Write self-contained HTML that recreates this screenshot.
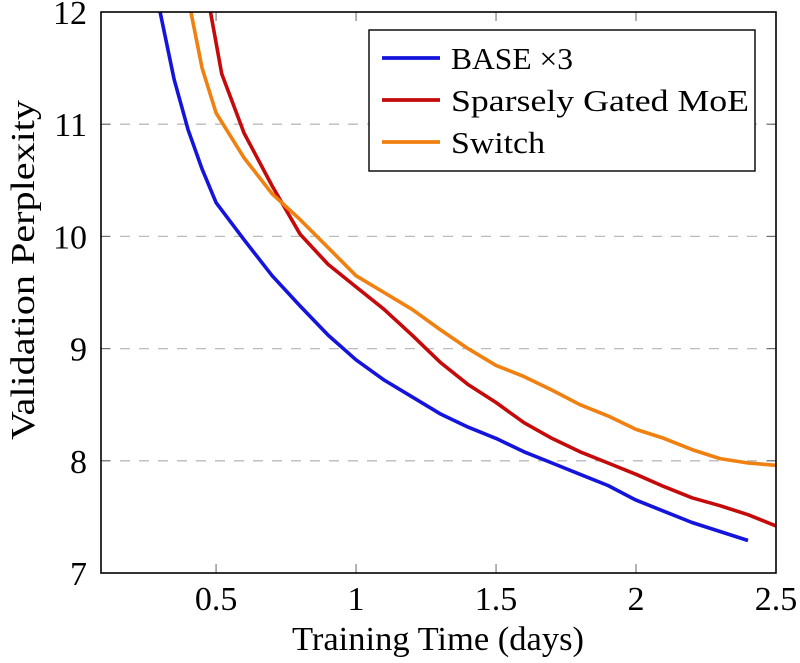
<!DOCTYPE html>
<html><head><meta charset="utf-8"><style>
body{margin:0;background:#fff;}
svg{display:block;font-family:"Liberation Serif",serif;}
</style></head><body>
<svg id="chart" width="800" height="663"></svg>
<script>
const xTicks=[0.5,1,1.5,2,2.5];
const xTickLabels=["0.5","1","1.5","2","2.5"];
const yTicks=[7,8,9,10,11,12];
const yTickLabels=["7","8","9","10","11","12"];
const seriesNames=["BASE \u00d73","Sparsely Gated MoE","Switch"];
const baseX=[0.30,0.35,0.40,0.45,0.5,0.6,0.7,0.8,0.9,1.0,1.1,1.2,1.3,1.4,1.5,1.6,1.7,1.8,1.9,2.0,2.1,2.2,2.3,2.4];
const baseY=[12,11.4,10.95,10.6,10.3,9.97,9.65,9.38,9.12,8.9,8.72,8.57,8.42,8.3,8.2,8.08,7.98,7.88,7.78,7.65,7.55,7.45,7.37,7.29];
const moeX=[0.48,0.52,0.6,0.7,0.8,0.9,1.0,1.1,1.2,1.3,1.4,1.5,1.6,1.7,1.8,1.9,2.0,2.1,2.2,2.3,2.4,2.5];
const moeY=[12,11.45,10.92,10.45,10.02,9.75,9.55,9.35,9.12,8.88,8.68,8.52,8.34,8.2,8.08,7.98,7.88,7.77,7.67,7.6,7.52,7.42];
const switchX=[0.41,0.45,0.5,0.6,0.7,0.8,0.9,1.0,1.1,1.2,1.3,1.4,1.5,1.6,1.7,1.8,1.9,2.0,2.1,2.2,2.3,2.4,2.5];
const switchY=[12,11.5,11.1,10.7,10.38,10.15,9.9,9.65,9.5,9.35,9.17,9.0,8.85,8.75,8.63,8.5,8.4,8.28,8.2,8.1,8.02,7.98,7.96];

const NS="http://www.w3.org/2000/svg";
const svg=document.getElementById('chart');
const L=101,R=776,T=12,B=573;
const xMin=0.089,xMax=2.5,yMin=7,yMax=12;
const sx=v=>L+(v-xMin)/(xMax-xMin)*(R-L);
const sy=v=>B-(v-yMin)/(yMax-yMin)*(B-T);
function mk(tag,attrs,text){const e=document.createElementNS(NS,tag);for(const k in attrs)e.setAttribute(k,attrs[k]);if(text!==undefined)e.textContent=text;svg.appendChild(e);return e;}

yTicks.forEach((v,i)=>{
  if(v>yMin&&v<yMax){const g=mk('line',{x1:L,x2:R,y1:sy(v),y2:sy(v),stroke:'#bbb','stroke-width':1.3,'stroke-dasharray':'10,9'});
  
  }
  const tk=mk('line',{x1:L,x2:L+9,y1:sy(v),y2:sy(v),stroke:'#666','stroke-width':1});
  
  
  const tk2=mk('line',{x1:R-9,x2:R,y1:sy(v),y2:sy(v),stroke:'#666','stroke-width':1});
  
  
  const t=mk('text',{x:87,y:sy(v)+12,'text-anchor':'end','font-size':34},yTickLabels[i]);
  
  
});
xTicks.forEach((v,i)=>{
  const tk=mk('line',{x1:sx(v),x2:sx(v),y1:B,y2:B-9,stroke:'#666','stroke-width':1});
  
  
  const tk2=mk('line',{x1:sx(v),x2:sx(v),y1:T,y2:T+9,stroke:'#666','stroke-width':1});
  
  
  const t=mk('text',{x:sx(v),y:610,'text-anchor':'middle','font-size':34},xTickLabels[i]);
  
  
});

const defs=mk('defs',{});
const cp=document.createElementNS(NS,'clipPath');cp.setAttribute('id','clip');
const cr=document.createElementNS(NS,'rect');cr.setAttribute('x',L);cr.setAttribute('y',T);cr.setAttribute('width',R-L);cr.setAttribute('height',B-T);
cp.appendChild(cr);defs.appendChild(cp);

const colors=['#1414dc','#c40a0a','#f08010'];
const allX=[baseX,moeX,switchX],allY=[baseY,moeY,switchY],names=['base-x3-line','moe-line','switch-line'];
allX.forEach((xs,s)=>{
  const d=xs.map((x,i)=>(i?'L':'M')+sx(x).toFixed(1)+' '+sy(allY[s][i]).toFixed(1)).join(' ');
  const p=mk('path',{d:d,fill:'none',stroke:colors[s],'stroke-width':3.6,'stroke-linejoin':'round','clip-path':'url(#clip)'});
  
  
});

const fr=mk('rect',{x:L,y:T,width:R-L,height:B-T,fill:'none',stroke:'#000','stroke-width':1.6});



const lg=mk('rect',{x:369,y:30,width:386,height:141,fill:'#fff',stroke:'#000','stroke-width':1.4});


const lens=[122,298,94];
seriesNames.forEach((n,i)=>{
  const y=58+i*42;
  const ln=mk('line',{x1:382,x2:440,y1:y,y2:y,stroke:colors[i],'stroke-width':3.8});
  
  
  const t=mk('text',{x:451,y:y+11,'font-size':31,textLength:lens[i],lengthAdjust:'spacingAndGlyphs'},n);
  
  
});

const xt=mk('text',{x:292,y:650,'font-size':34,textLength:292,lengthAdjust:'spacingAndGlyphs'},'Training Time (days)');


const yt=mk('text',{x:-440,y:34,'font-size':34,textLength:340,lengthAdjust:'spacingAndGlyphs',transform:'rotate(-90)'},'Validation Perplexity');


</script>
</body></html>
